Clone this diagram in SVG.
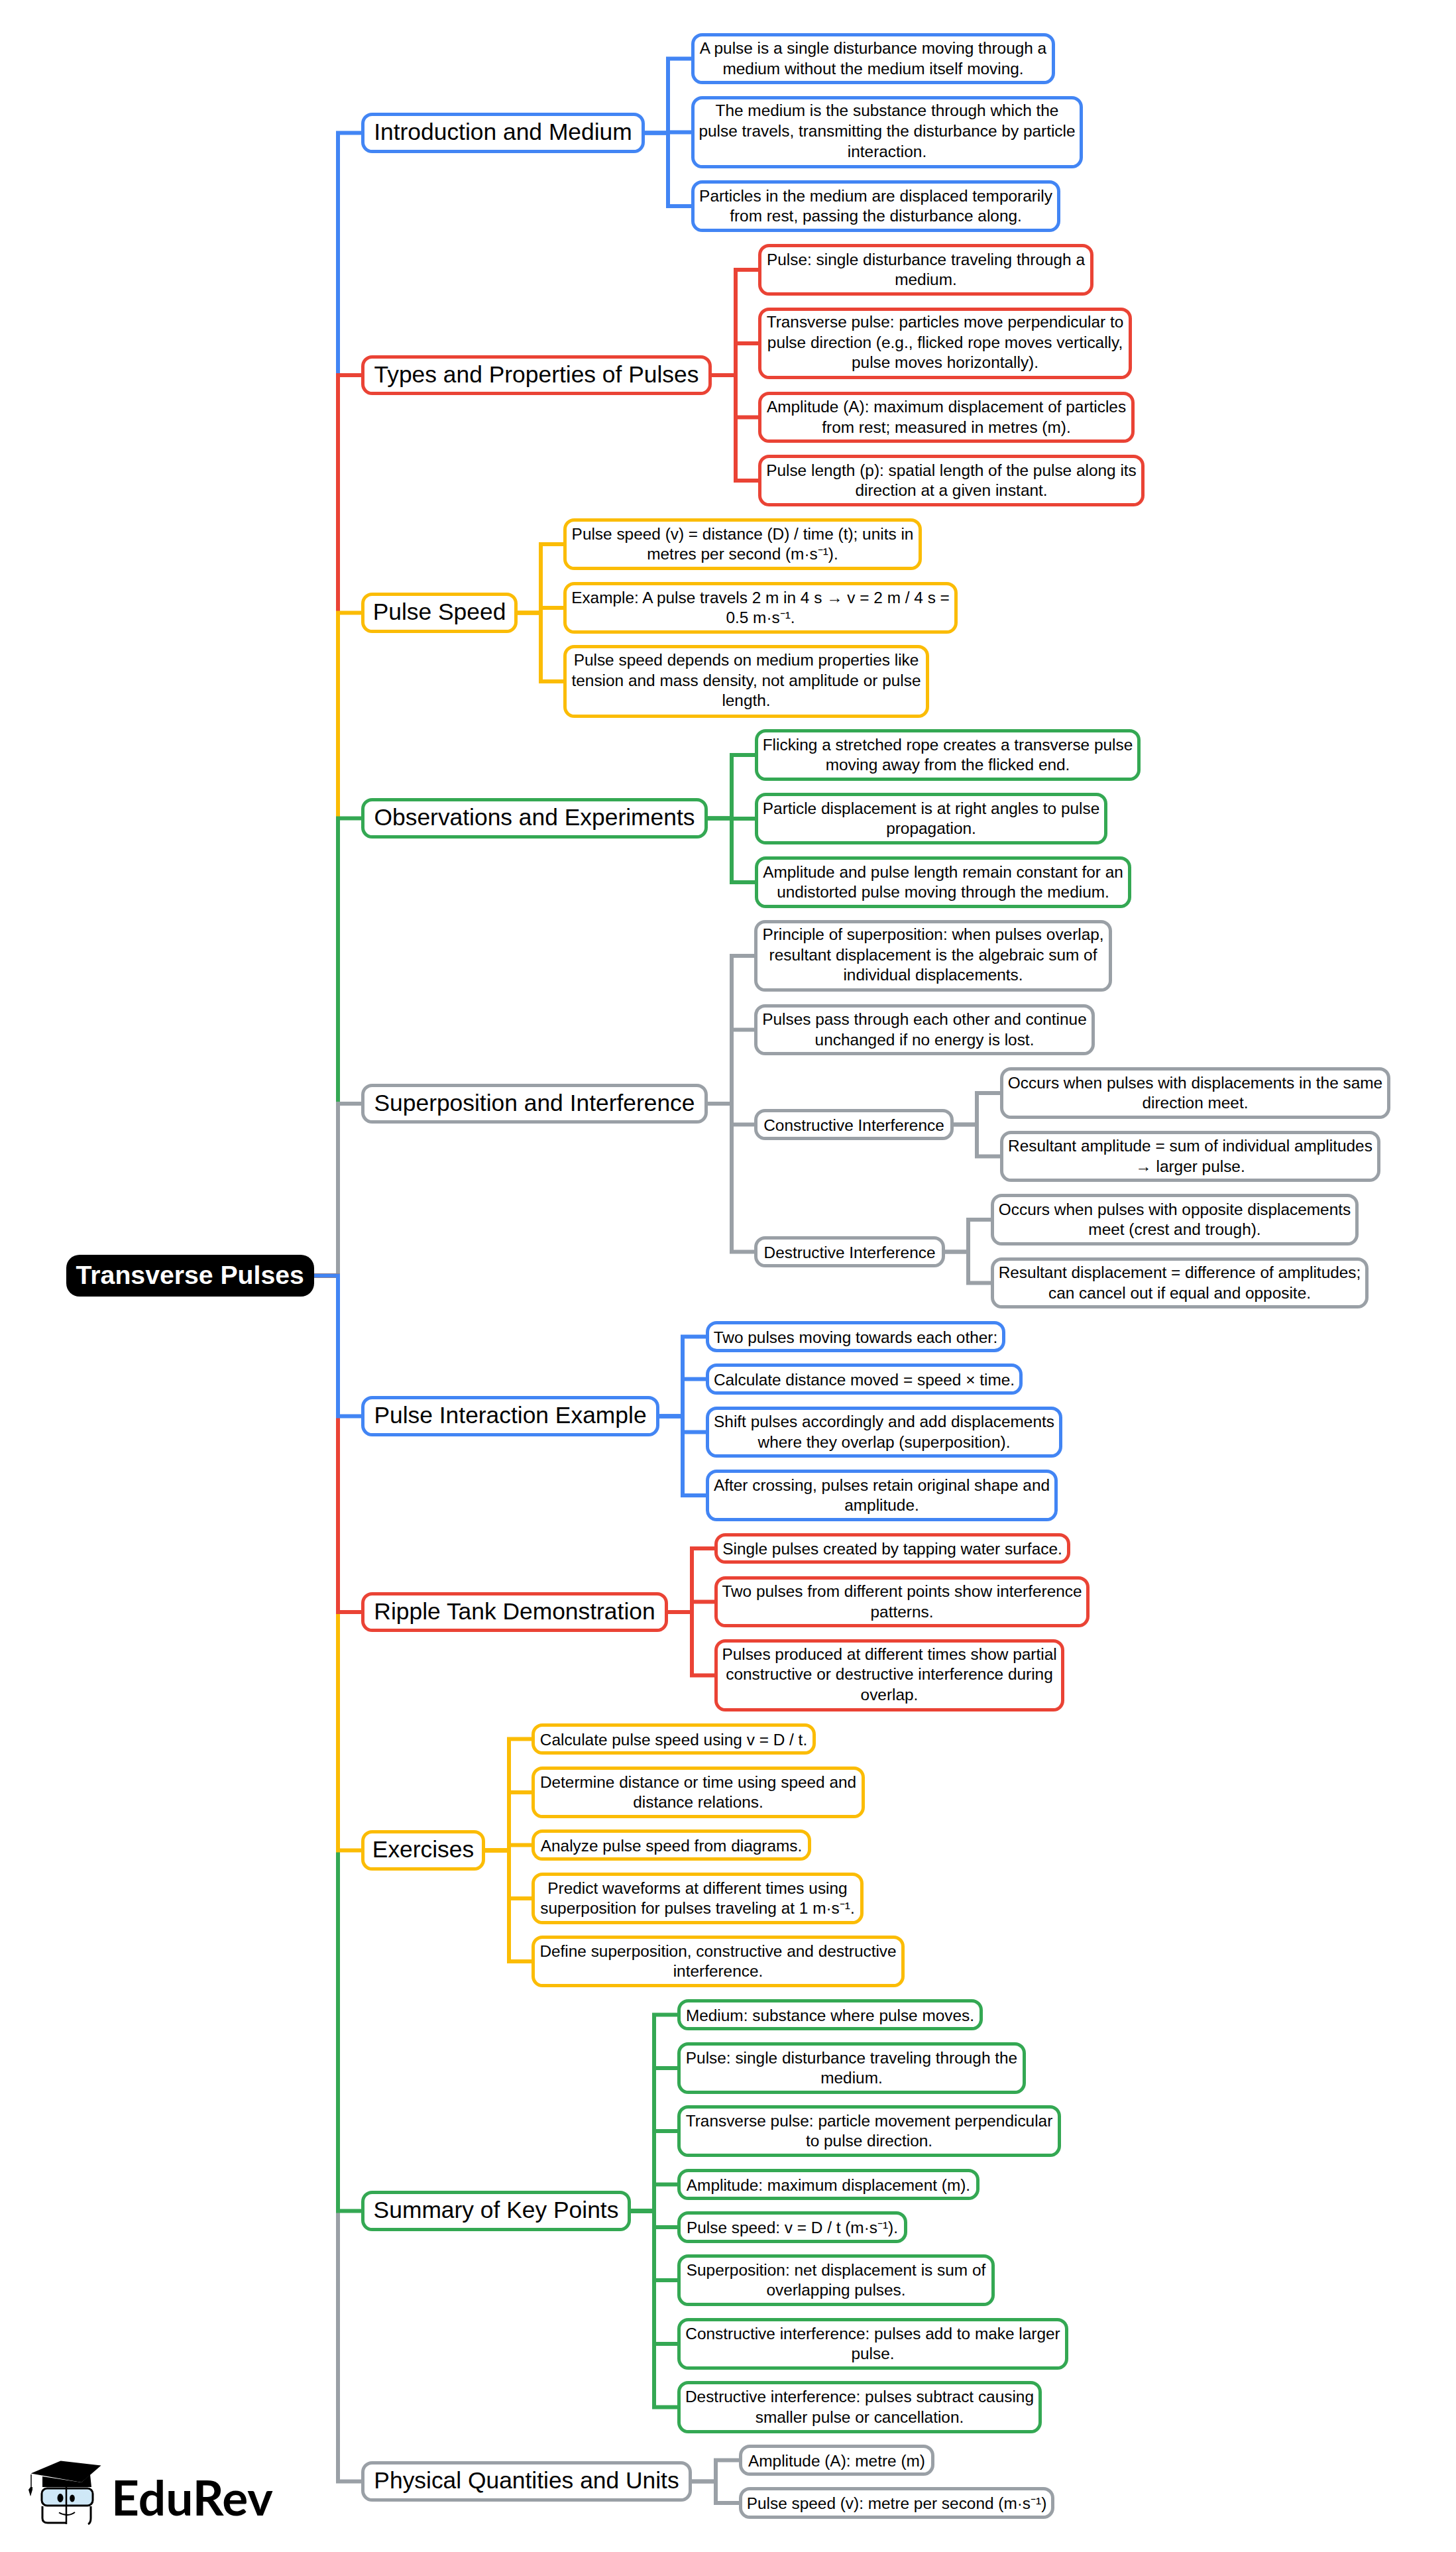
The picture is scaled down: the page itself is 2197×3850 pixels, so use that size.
<svg xmlns="http://www.w3.org/2000/svg" width="2197" height="3850" viewBox="0 0 2197 3850">
<style>
text{font-family:"Liberation Sans",Arial,sans-serif;fill:#000;text-anchor:middle}
.l{font-size:24.4px}
.m{font-size:35.4px}
.r{font-size:39.2px;font-weight:700;fill:#fff}
rect{fill:#fff;stroke-width:5;rx:14px;ry:14px}
.b rect{stroke:#4285f4}.e rect{stroke:#ea4335}.y rect{stroke:#fbbc05}.g rect{stroke:#34a853}.a rect{stroke:#9aa0a6}
#connectors path{fill:none;stroke-width:6;stroke-linejoin:miter}
#connectors .b{stroke:#4285f4}#connectors .e{stroke:#ea4335}#connectors .y{stroke:#fbbc05}#connectors .g{stroke:#34a853}#connectors .a{stroke:#9aa0a6}
</style>
<rect x="0" y="0" width="2197" height="3850" style="fill:#fff;stroke:none;rx:0;ry:0"/>
<g id="connectors">
<path class="b" d="M474 1924.5H510V200.5H549"/>
<path class="e" d="M474 1924.5H510V566H549"/>
<path class="y" d="M474 1924.5H510V924.5H549"/>
<path class="g" d="M474 1924.5H510V1234.5H549"/>
<path class="a" d="M474 1924.5H510V1665H549"/>
<path class="a" d="M474 1924.5H510V3743.5H549"/>
<path class="g" d="M474 1924.5H510V3335.5H549"/>
<path class="y" d="M474 1924.5H510V2791.5H549"/>
<path class="e" d="M474 1924.5H510V2432H549"/>
<path class="b" d="M474 1924.5H510V2136.5H549"/>
<path class="b" d="M969 200.5H1008V88.5H1048"/>
<path class="b" d="M969 200.5H1008V199.5H1048"/>
<path class="b" d="M969 200.5H1008V311H1048"/>
<path class="e" d="M1070 566H1110V407H1149"/>
<path class="e" d="M1070 566H1110V518H1149"/>
<path class="e" d="M1070 566H1110V629.5H1149"/>
<path class="e" d="M1070 566H1110V725H1149"/>
<path class="y" d="M777 924.5H816V821H855"/>
<path class="y" d="M777 924.5H816V917H855"/>
<path class="y" d="M777 924.5H816V1028H855"/>
<path class="g" d="M1064 1234.5H1104V1139H1144"/>
<path class="g" d="M1064 1234.5H1104V1235H1144"/>
<path class="g" d="M1064 1234.5H1104V1331H1144"/>
<path class="a" d="M1064 1665H1104V1442H1143"/>
<path class="a" d="M1064 1665H1104V1553.5H1143"/>
<path class="a" d="M1064 1665H1104V1696.5H1143"/>
<path class="a" d="M1064 1665H1104V1888.5H1143"/>
<path class="a" d="M1434 1696.5H1474V1649H1514"/>
<path class="a" d="M1434 1696.5H1474V1744.5H1514"/>
<path class="a" d="M1421 1888.5H1461V1840H1500"/>
<path class="a" d="M1421 1888.5H1461V1935.5H1500"/>
<path class="b" d="M991 2136.5H1030V2016.5H1070"/>
<path class="b" d="M991 2136.5H1030V2080.5H1070"/>
<path class="b" d="M991 2136.5H1030V2160.5H1070"/>
<path class="b" d="M991 2136.5H1030V2256H1070"/>
<path class="e" d="M1004 2432H1044V2336H1083"/>
<path class="e" d="M1004 2432H1044V2416.5H1083"/>
<path class="e" d="M1004 2432H1044V2527.5H1083"/>
<path class="y" d="M728 2791.5H768V2623.5H807"/>
<path class="y" d="M728 2791.5H768V2704H807"/>
<path class="y" d="M728 2791.5H768V2783.5H807"/>
<path class="y" d="M728 2791.5H768V2864H807"/>
<path class="y" d="M728 2791.5H768V2959H807"/>
<path class="g" d="M948 3335.5H987V3039.5H1027"/>
<path class="g" d="M948 3335.5H987V3120H1027"/>
<path class="g" d="M948 3335.5H987V3215H1027"/>
<path class="g" d="M948 3335.5H987V3295.5H1027"/>
<path class="g" d="M948 3335.5H987V3360H1027"/>
<path class="g" d="M948 3335.5H987V3440H1027"/>
<path class="g" d="M948 3335.5H987V3536H1027"/>
<path class="g" d="M948 3335.5H987V3631.5H1027"/>
<path class="a" d="M1040 3743.5H1080V3711.5H1120"/>
<path class="a" d="M1040 3743.5H1080V3776H1120"/>
</g>
<g id="root"><rect x="100" y="1893" width="374" height="63" style="fill:#000;stroke:none;rx:20px;ry:20px"/><text class="r" x="286.7" y="1937">Transverse Pulses</text></g>
<g id="n1" class="b"><rect x="547.5" y="172.5" width="423" height="56"/><text class="m" x="759" y="211">Introduction and Medium</text></g>
<g id="n1a" class="b"><rect x="1045.5" y="52.5" width="544" height="72"/><text class="l" x="1317.5"><tspan x="1317.5" y="81">A pulse is a single disturbance moving through a</tspan><tspan x="1317.5" y="111.75">medium without the medium itself moving.</tspan></text></g>
<g id="n1b" class="b"><rect x="1045.5" y="147.5" width="586" height="104"/><text class="l"><tspan x="1338.5" y="175.3">The medium is the substance through which the</tspan><tspan x="1338.5" y="206">pulse travels, transmitting the disturbance by particle</tspan><tspan x="1338.5" y="236.7">interaction.</tspan></text></g>
<g id="n1c" class="b"><rect x="1045.5" y="274.5" width="552" height="73"/><text class="l"><tspan x="1321.5" y="303.75">Particles in the medium are displaced temporarily</tspan><tspan x="1321.5" y="334.25">from rest, passing the disturbance along.</tspan></text></g>
<g id="n2" class="e"><rect x="547.5" y="538.5" width="524" height="55"/><text class="m" x="809.5" y="576.5">Types and Properties of Pulses</text></g>
<g id="n2a" class="e"><rect x="1146.5" y="370.5" width="501" height="73"/><text class="l"><tspan x="1397" y="399.75">Pulse: single disturbance traveling through a</tspan><tspan x="1397" y="430.25">medium.</tspan></text></g>
<g id="n2b" class="e"><rect x="1146.5" y="466.5" width="559" height="103"/><text class="l"><tspan x="1426" y="494">Transverse pulse: particles move perpendicular to</tspan><tspan x="1426" y="524.5">pulse direction (e.g., flicked rope moves vertically,</tspan><tspan x="1426" y="555">pulse moves horizontally).</tspan></text></g>
<g id="n2c" class="e"><rect x="1146.5" y="593.5" width="563" height="72"/><text class="l"><tspan x="1428" y="622.25">Amplitude (A): maximum displacement of particles</tspan><tspan x="1428" y="652.75">from rest; measured in metres (m).</tspan></text></g>
<g id="n2d" class="e"><rect x="1146.5" y="688.5" width="578" height="73"/><text class="l"><tspan x="1435.5" y="717.75">Pulse length (p): spatial length of the pulse along its</tspan><tspan x="1435.5" y="748.25">direction at a given instant.</tspan></text></g>
<g id="n3" class="y"><rect x="547.5" y="896.5" width="231" height="56"/><text class="m" x="663" y="935">Pulse Speed</text></g>
<g id="n3a" class="y"><rect x="852.5" y="784.5" width="536" height="73"/><text class="l"><tspan x="1120.5" y="813.75">Pulse speed (v) = distance (D) / time (t); units in</tspan><tspan x="1120.5" y="844.25">metres per second (m·s⁻¹).</tspan></text></g>
<g id="n3b" class="y"><rect x="852.5" y="880.5" width="590" height="73"/><text class="l"><tspan x="1147.5" y="909.75">Example: A pulse travels 2 m in 4 s → v = 2 m / 4 s =</tspan><tspan x="1147.5" y="940.25">0.5 m·s⁻¹.</tspan></text></g>
<g id="n3c" class="y"><rect x="852.5" y="975.5" width="547" height="105"/><text class="l"><tspan x="1126" y="1004">Pulse speed depends on medium properties like</tspan><tspan x="1126" y="1034.5">tension and mass density, not amplitude or pulse</tspan><tspan x="1126" y="1065">length.</tspan></text></g>
<g id="n4" class="g"><rect x="547.5" y="1206.5" width="518" height="56"/><text class="m" x="806.5" y="1245">Observations and Experiments</text></g>
<g id="n4a" class="g"><rect x="1141.5" y="1102.5" width="577" height="73"/><text class="l"><tspan x="1430" y="1131.75">Flicking a stretched rope creates a transverse pulse</tspan><tspan x="1430" y="1162.25">moving away from the flicked end.</tspan></text></g>
<g id="n4b" class="g"><rect x="1141.5" y="1198.5" width="527" height="73"/><text class="l"><tspan x="1405" y="1227.75">Particle displacement is at right angles to pulse</tspan><tspan x="1405" y="1258.25">propagation.</tspan></text></g>
<g id="n4c" class="g"><rect x="1141.5" y="1294.5" width="563" height="73"/><text class="l"><tspan x="1423" y="1323.75">Amplitude and pulse length remain constant for an</tspan><tspan x="1423" y="1354.25">undistorted pulse moving through the medium.</tspan></text></g>
<g id="n5" class="a"><rect x="547.5" y="1637.5" width="518" height="55"/><text class="m" x="806.5" y="1675.5">Superposition and Interference</text></g>
<g id="n5a" class="a"><rect x="1140.5" y="1390.5" width="535" height="103"/><text class="l"><tspan x="1408" y="1418">Principle of superposition: when pulses overlap,</tspan><tspan x="1408" y="1448.5">resultant displacement is the algebraic sum of</tspan><tspan x="1408" y="1479">individual displacements.</tspan></text></g>
<g id="n5b" class="a"><rect x="1140.5" y="1517.5" width="509" height="72"/><text class="l"><tspan x="1395" y="1546.25">Pulses pass through each other and continue</tspan><tspan x="1395" y="1576.75">unchanged if no energy is lost.</tspan></text></g>
<g id="n5c" class="a"><rect x="1140.5" y="1675.5" width="296" height="42"/><text class="l" x="1288.5" y="1705.5">Constructive Interference</text></g>
<g id="n5c1" class="a"><rect x="1511.5" y="1612.5" width="584" height="73"/><text class="l"><tspan x="1803.5" y="1641.75">Occurs when pulses with displacements in the same</tspan><tspan x="1803.5" y="1672.25">direction meet.</tspan></text></g>
<g id="n5c2" class="a"><rect x="1511.5" y="1708.5" width="569" height="72"/><text class="l"><tspan x="1796" y="1737.25">Resultant amplitude = sum of individual amplitudes</tspan><tspan x="1796" y="1767.75">→ larger pulse.</tspan></text></g>
<g id="n5d" class="a"><rect x="1140.5" y="1867.5" width="283" height="42"/><text class="l" x="1282" y="1897.5">Destructive Interference</text></g>
<g id="n5d1" class="a"><rect x="1497.5" y="1803.5" width="550" height="73"/><text class="l"><tspan x="1772.5" y="1832.75">Occurs when pulses with opposite displacements</tspan><tspan x="1772.5" y="1863.25">meet (crest and trough).</tspan></text></g>
<g id="n5d2" class="a"><rect x="1497.5" y="1899.5" width="565" height="72"/><text class="l"><tspan x="1780" y="1928.25">Resultant displacement = difference of amplitudes;</tspan><tspan x="1780" y="1958.75">can cancel out if equal and opposite.</tspan></text></g>
<g id="n6" class="b"><rect x="547.5" y="2108.5" width="445" height="56"/><text class="m" x="770" y="2147">Pulse Interaction Example</text></g>
<g id="n6a" class="b"><rect x="1067.5" y="1995.5" width="447" height="42"/><text class="l" x="1291" y="2025.5">Two pulses moving towards each other:</text></g>
<g id="n6b" class="b"><rect x="1067.5" y="2059.5" width="473" height="42"/><text class="l" x="1304" y="2089.5">Calculate distance moved = speed × time.</text></g>
<g id="n6c" class="b"><rect x="1067.5" y="2124.5" width="533" height="72"/><text class="l"><tspan x="1334" y="2153.25">Shift pulses accordingly and add displacements</tspan><tspan x="1334" y="2183.75">where they overlap (superposition).</tspan></text></g>
<g id="n6d" class="b"><rect x="1067.5" y="2219.5" width="526" height="73"/><text class="l"><tspan x="1330.5" y="2248.75">After crossing, pulses retain original shape and</tspan><tspan x="1330.5" y="2279.25">amplitude.</tspan></text></g>
<g id="n7" class="e"><rect x="547.5" y="2404.5" width="458" height="55"/><text class="m" x="776.5" y="2442.5">Ripple Tank Demonstration</text></g>
<g id="n7a" class="e"><rect x="1080.5" y="2315.5" width="532" height="41"/><text class="l" x="1346.5" y="2345">Single pulses created by tapping water surface.</text></g>
<g id="n7b" class="e"><rect x="1080.5" y="2380.5" width="561" height="72"/><text class="l"><tspan x="1361" y="2409.25">Two pulses from different points show interference</tspan><tspan x="1361" y="2439.75">patterns.</tspan></text></g>
<g id="n7c" class="e"><rect x="1080.5" y="2475.5" width="523" height="104"/><text class="l"><tspan x="1342" y="2503.5">Pulses produced at different times show partial</tspan><tspan x="1342" y="2534">constructive or destructive interference during</tspan><tspan x="1342" y="2564.5">overlap.</tspan></text></g>
<g id="n8" class="y"><rect x="547.5" y="2763.5" width="182" height="56"/><text class="m" x="638.5" y="2802">Exercises</text></g>
<g id="n8a" class="y"><rect x="804.5" y="2602.5" width="424" height="42"/><text class="l" x="1016.5" y="2632.5">Calculate pulse speed using v = D / t.</text></g>
<g id="n8b" class="y"><rect x="804.5" y="2667.5" width="498" height="73"/><text class="l"><tspan x="1053.5" y="2696.75">Determine distance or time using speed and</tspan><tspan x="1053.5" y="2727.25">distance relations.</tspan></text></g>
<g id="n8c" class="y"><rect x="804.5" y="2762.5" width="417" height="42"/><text class="l" x="1013" y="2792.5">Analyze pulse speed from diagrams.</text></g>
<g id="n8d" class="y"><rect x="804.5" y="2827.5" width="496" height="73"/><text class="l"><tspan x="1052.5" y="2856.75">Predict waveforms at different times using</tspan><tspan x="1052.5" y="2887.25">superposition for pulses traveling at 1 m·s⁻¹.</tspan></text></g>
<g id="n8e" class="y"><rect x="804.5" y="2922.5" width="558" height="73"/><text class="l"><tspan x="1083.5" y="2951.75">Define superposition, constructive and destructive</tspan><tspan x="1083.5" y="2982.25">interference.</tspan></text></g>
<g id="n9" class="g"><rect x="547.5" y="3307.5" width="402" height="56"/><text class="m" x="748.5" y="3346">Summary of Key Points</text></g>
<g id="n9a" class="g"><rect x="1024.5" y="3018.5" width="456" height="42"/><text class="l" x="1252.5" y="3048.5">Medium: substance where pulse moves.</text></g>
<g id="n9b" class="g"><rect x="1024.5" y="3083.5" width="521" height="73"/><text class="l"><tspan x="1285" y="3112.75">Pulse: single disturbance traveling through the</tspan><tspan x="1285" y="3143.25">medium.</tspan></text></g>
<g id="n9c" class="g"><rect x="1024.5" y="3178.5" width="574" height="73"/><text class="l"><tspan x="1311.5" y="3207.75">Transverse pulse: particle movement perpendicular</tspan><tspan x="1311.5" y="3238.25">to pulse direction.</tspan></text></g>
<g id="n9d" class="g"><rect x="1024.5" y="3274.5" width="451" height="42"/><text class="l" x="1250" y="3304.5">Amplitude: maximum displacement (m).</text></g>
<g id="n9e" class="g"><rect x="1024.5" y="3338.5" width="342" height="43"/><text class="l" x="1195.5" y="3369">Pulse speed: v = D / t (m·s⁻¹).</text></g>
<g id="n9f" class="g"><rect x="1024.5" y="3403.5" width="474" height="73"/><text class="l"><tspan x="1261.5" y="3432.75">Superposition: net displacement is sum of</tspan><tspan x="1261.5" y="3463.25">overlapping pulses.</tspan></text></g>
<g id="n9g" class="g"><rect x="1024.5" y="3499.5" width="585" height="73"/><text class="l"><tspan x="1317" y="3528.75">Constructive interference: pulses add to make larger</tspan><tspan x="1317" y="3559.25">pulse.</tspan></text></g>
<g id="n9h" class="g"><rect x="1024.5" y="3594.5" width="545" height="74"/><text class="l"><tspan x="1297" y="3624.25">Destructive interference: pulses subtract causing</tspan><tspan x="1297" y="3654.75">smaller pulse or cancellation.</tspan></text></g>
<g id="n10" class="a"><rect x="547.5" y="3715.5" width="494" height="56"/><text class="m" x="794.5" y="3754">Physical Quantities and Units</text></g>
<g id="n10a" class="a"><rect x="1117.5" y="3690.5" width="290" height="42"/><text class="l" x="1262.5" y="3720.5">Amplitude (A): metre (m)</text></g>
<g id="n10b" class="a"><rect x="1117.5" y="3754.5" width="471" height="43"/><text class="l" x="1353" y="3785">Pulse speed (v): metre per second (m·s⁻¹)</text></g>
<g id="logo">
<path d="M47 3733V3753" fill="none" stroke="#000" stroke-width="1.5"/>
<path d="M43 3756L46 3752H49L49 3756L46 3766Z" fill="#000"/>
<path d="M46.5 3731.5L91.5 3712.5L152.5 3719.5L123 3745Z" fill="#000"/>
<path d="M64 3736L123 3745L136 3733L138 3752H64Z" fill="#000"/>
<rect x="63" y="3754" width="77" height="26" style="fill:#cfe8f7;stroke:#000;stroke-width:3;rx:8px;ry:8px"/>
<path d="M64 3781V3799Q64 3806 72 3806H100M137 3781V3799Q137 3806 133 3808" fill="none" stroke="#000" stroke-width="3"/>
<path d="M100 3752V3808" fill="none" stroke="#000" stroke-width="2.5"/>
<ellipse cx="91" cy="3768.5" rx="4.5" ry="6.5" fill="#000"/>
<ellipse cx="109" cy="3769" rx="3.8" ry="5.5" fill="#000"/>
<path d="M89 3790.5Q102 3798 113 3790" fill="none" stroke="#000" stroke-width="2"/>
<text x="290" y="3795" style="font-family:Lato,'Open Sans',sans-serif;font-size:73px;font-weight:700">EduRev</text>
</g>
</svg>
